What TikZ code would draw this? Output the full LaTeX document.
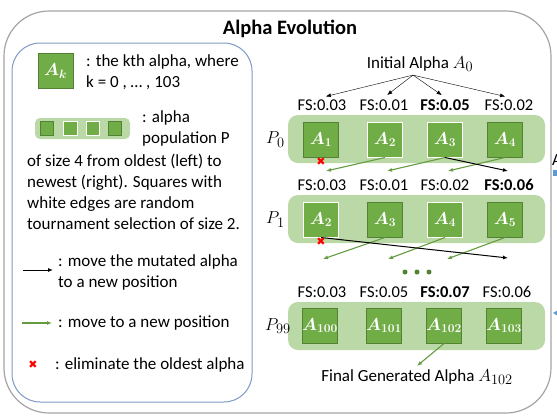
\documentclass[tikz,border=0pt]{standalone}
\usepackage{amsmath,amssymb}
\usepackage{fontspec}
\setmainfont{Carlito}
\newfontfamily\dingfont{DejaVu Sans}
\usetikzlibrary{arrows.meta}

\definecolor{boxgreen}{RGB}{112,173,71}
\definecolor{edgegreen}{RGB}{84,130,53}
\definecolor{bargreen}{RGB}{187,216,167}
\definecolor{framegray}{RGB}{165,165,165}
\definecolor{legendblue}{RGB}{125,155,198}
\definecolor{cutblue}{RGB}{91,155,213}

\newcommand{\alphmath}[1]{{\fontsize{19}{21}\selectfont$#1$}}

\begin{document}
\begin{tikzpicture}[x=1pt, y=-1pt, >={Latex[length=5pt,width=4pt]},
    every node/.style={font=\fontsize{17}{21}\selectfont},
    alpha/.style={draw=edgegreen, line width=1pt, fill=boxgreen, minimum size=35pt, inner sep=0pt, text=white, font=\fontsize{18}{20}\selectfont\boldmath},
    picked/.style={alpha, draw=white},
    pop/.style={fill=bargreen, rounded corners=10pt},
    fs/.style={inner sep=2pt, font=\fontsize{16.5}{20}\selectfont},
    best/.style={fs, font=\fontsize{16.5}{20}\selectfont\bfseries},
    lbl/.style={inner sep=0pt, anchor=west, align=left},
    move/.style={->, boxgreen!90!black, line width=1.1pt},
    mutate/.style={->, black, line width=1pt},
    kill/.style={text=red, inner sep=0pt, font=\dingfont\fontsize{11}{11}\selectfont}]
    \useasboundingbox (0,0) rectangle (557,418);
    \fill[white] (0,0) rectangle (557,418);

    % Frames
    \draw[framegray, line width=1.2pt, rounded corners=45pt] (4,11) rectangle (551,413);
    \draw[legendblue, line width=1pt, rounded corners=28pt] (12,43) rectangle (252,402);
    \node[font=\fontsize{20.5}{24}\selectfont\bfseries] (title) at (290,29) {Alpha Evolution};

    % Cut-off bits of the next panel
    \node[lbl] (cut) at (552,160) {A};
    \fill[cutblue] (553,170) rectangle (560,176);
    \fill[cutblue] (553,313) -- (560,309) -- (560,317) -- cycle;

    % Legend
    \node[alpha] (ak) at (55.5,71) {$A_k$};
    \node[lbl] (akt) at (86,72.5) {: the kth alpha, where\\k = 0 , … , 103};

    \path[pop, rounded corners=5pt] (35,118) rectangle (130,139);
    \node[alpha, minimum size=13.5pt, line width=0.8pt] (s1) at (47,128.5) {};
    \node[picked, minimum size=13.5pt, line width=0.8pt] (s2) at (70.5,128.5) {};
    \node[picked, minimum size=13.5pt, line width=0.8pt] (s3) at (93,128.5) {};
    \node[alpha, minimum size=13.5pt, line width=0.8pt] (s4) at (115,128.5) {};
    \node[lbl] (popt) at (142,128) {: alpha\\population P};
    \node[lbl] (popd) at (27,191.5) {of size 4 from oldest (left) to\\newest (right). Squares with\\white edges are random\\tournament selection of size 2.};

    \coordinate (m0) at (23,270);
    \coordinate (m1) at (53,270);
    \draw[mutate] (m0) -- (m1);
    \node[lbl] (mt) at (58,272) {: move the mutated alpha\\to a new position};

    \coordinate (g0) at (22,323);
    \coordinate (g1) at (52,323);
    \draw[move] (g0) -- (g1);
    \node[lbl] (gt) at (58,323) {: move to a new position};

    \node[kill] (kx) at (33,365) {✖};
    \node[lbl] (kt) at (55,365) {: eliminate the oldest alpha};

    % Initial alpha
    \node (init) at (420,64) {Initial Alpha \alphmath{A_0}};
    \coordinate (fork) at ([xshift=-7pt]init.south);

    % Population P0
    \node[fs] (fs01) at (322,105) {FS:0.03};
    \node[fs] (fs02) at (384,105) {FS:0.01};
    \node[best] (fs03) at (445,105) {FS:0.05};
    \node[fs] (fs04) at (509,105) {FS:0.02};
    \draw[->, shorten >=4pt] (fork) -- (fs01.north);
    \draw[->, shorten >=4pt] (fork) -- (fs02.north);
    \draw[->, shorten >=4pt] (fork) -- (fs03.north);
    \draw[->, shorten >=4pt] (fork) -- (fs04.north);
    \path[pop] (288,115) rectangle (545,163);
    \node[lbl] (p0) at (266,139.5) {\alphmath{P_0}};
    \node[alpha] (a01) at (321,139.5) {$A_1$};
    \node[picked] (a02) at (385,139.5) {$A_2$};
    \node[picked] (a03) at (445,139.5) {$A_3$};
    \node[alpha] (a04) at (505,139.5) {$A_4$};

    % P0 -> P1
    \coordinate (n01) at (326,171);
    \coordinate (n02) at (387,171);
    \coordinate (n03) at (448,171);
    \coordinate (n04) at (508,171);
    \draw[move] (a02.south) -- (n01);
    \draw[move] (a03.south) -- (n02);
    \draw[move] (a04.south) -- (n03);
    \draw[mutate] (a03.south) -- (n04);
    \node[kill] at ([yshift=-4pt]a01.south) {✖};

    % Population P1
    \node[fs] (fs11) at (322,185) {FS:0.03};
    \node[fs] (fs12) at (384,185) {FS:0.01};
    \node[fs] (fs13) at (445,185) {FS:0.02};
    \node[best] (fs14) at (509,185) {FS:0.06};
    \path[pop] (288,195) rectangle (545,243);
    \node[lbl] (p1) at (266,219.5) {\alphmath{P_1}};
    \node[picked] (a12) at (321,219.5) {$A_2$};
    \node[alpha] (a13) at (385,219.5) {$A_3$};
    \node[picked] (a14) at (445,219.5) {$A_4$};
    \node[alpha] (a15) at (505,219.5) {$A_5$};

    % P1 -> next
    \coordinate (n11) at (323,259);
    \coordinate (n12) at (388,259);
    \coordinate (n13) at (447,259);
    \coordinate (n14) at (508,258);
    \draw[move] (a13.south) -- (n11);
    \draw[move] (a14.south) -- (n12);
    \draw[move] (a15.south) -- (n13);
    \draw[mutate] (a12.south) -- (n14);
    \node[kill] at ([yshift=-4pt]a12.south) {✖};

    % Dots
    \fill[edgegreen] (405,272) circle (2.5pt);
    \fill[edgegreen] (417,272) circle (2.5pt);
    \fill[edgegreen] (429,272) circle (2.5pt);

    % Population P99
    \node[fs] (fs991) at (322,292) {FS:0.03};
    \node[fs] (fs992) at (384,292) {FS:0.05};
    \node[best] (fs993) at (445,292) {FS:0.07};
    \node[fs] (fs994) at (507,292) {FS:0.06};
    \path[pop] (288,302) rectangle (545,350);
    \node[lbl] (p99) at (265,326) {\alphmath{P_{99}}};
    \node[alpha] (a100) at (320,325.5) {$A_{100}$};
    \node[alpha] (a101) at (384,325.5) {$A_{101}$};
    \node[alpha] (a102) at (444,325.5) {$A_{102}$};
    \node[alpha] (a103) at (504,325.5) {$A_{103}$};

    % Final alpha
    \node (final) at (417,377) {Final Generated Alpha \alphmath{A_{102}}};
    \draw[move] (a102.south) -- (final.north);
\end{tikzpicture}
\end{document}
